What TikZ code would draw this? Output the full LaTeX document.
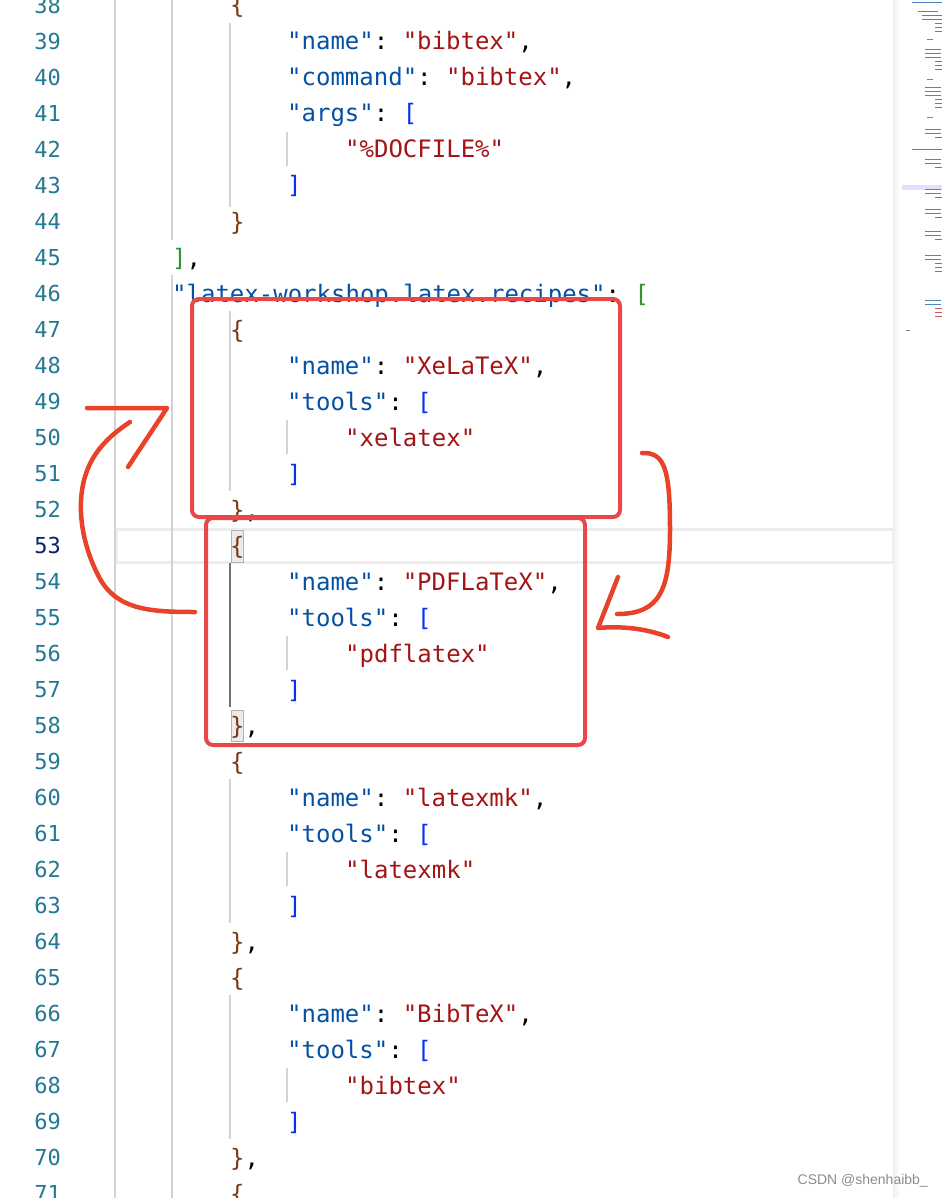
\documentclass[tikz,border=0pt]{standalone}
\usepackage{fontspec}
\setmonofont{DejaVu Sans Mono}
\setsansfont{Liberation Sans}
\definecolor{kcol}{HTML}{0451A5}
\definecolor{scol}{HTML}{A31515}
\definecolor{bcol}{HTML}{7B3814}
\definecolor{qcol}{HTML}{0431FA}
\definecolor{gcol}{HTML}{319331}
\definecolor{ncol}{HTML}{237893}
\definecolor{nact}{HTML}{0B216F}
\definecolor{guide}{HTML}{D3D3D3}
\definecolor{boxred}{HTML}{E84848}
\definecolor{arrred}{HTML}{E8432A}
\newcommand{\ck}[1]{\textcolor{kcol}{#1}}
\newcommand{\cs}[1]{\textcolor{scol}{#1}}
\newcommand{\cb}[1]{\textcolor{bcol}{#1}}
\newcommand{\cq}[1]{\textcolor{qcol}{#1}}
\newcommand{\cg}[1]{\textcolor{gcol}{#1}}
\begin{document}
\begin{tikzpicture}[x=1pt,y=-1pt,
  code/.style={anchor=west,inner sep=0pt,yshift=-3pt,font=\ttfamily\fontsize{24}{24}\selectfont,text height=17pt,text depth=5pt},
  lnum/.style={anchor=east,inner sep=0pt,yshift=-3pt,font=\ttfamily\fontsize{22}{22}\selectfont,text=ncol,text height=16pt,text depth=5pt},
  gline/.style={guide,line width=1.2pt},
  redbox/.style={draw=boxred,line width=4pt,rounded corners=7pt},
  redarr/.style={draw=arrred,line width=4.5pt,line cap=round,line join=round}]
\useasboundingbox (0,0) rectangle (942,1198);
\fill[white] (0,0) rectangle (942,1198);
% current line highlight
\draw[draw=black!7,line width=3pt] (116,529) rectangle (893,562);
% indent guides
\draw[gline] (115,0) -- (115,1198);
\draw[gline] (172,0) -- (172,240);
\draw[gline] (172,275) -- (172,1198);
\foreach \a/\b in {23/207,311/491,779/923,995/1139}{\draw[gline] (230,\a) -- (230,\b);}
\draw[black!55,line width=1.2pt] (230,563) -- (230,707);
\foreach \c in {149,437,653,869,1085}{\draw[gline] (287,\c-17) -- (287,\c+17);}
% bracket match boxes
\draw[black!30,fill=black!8,line width=0.8pt] (231,530) rectangle (243,562);
\draw[black!30,fill=black!8,line width=0.8pt] (231,710) rectangle (243,741);
% line numbers
\foreach \n in {38,...,71}{
  \pgfmathtruncatemacro{\yy}{41+(\n-39)*36}
  \ifnum\n=53
    \node[lnum,text=nact] (ln\n) at (61,\yy) {\n};
  \else
    \node[lnum] (ln\n) at (61,\yy) {\n};
  \fi
}
% code lines
\node[code] (c38) at (230,5) {\cb{\{}};
\node[code] (c39) at (287,41) {\ck{"name"}: \cs{"bibtex"},};
\node[code] (c40) at (287,77) {\ck{"command"}: \cs{"bibtex"},};
\node[code] (c41) at (287,113) {\ck{"args"}: \cq{[}};
\node[code] (c42) at (345,149) {\cs{"\%DOCFILE\%"}};
\node[code] (c43) at (287,185) {\cq{]}};
\node[code] (c44) at (230,221) {\cb{\}}};
\node[code] (c45) at (172,257) {\cg{]},};
\node[code] (c46) at (172,293) {\ck{"latex-workshop.latex.recipes"}: \cg{[}};
\node[code] (c47) at (230,329) {\cb{\{}};
\node[code] (c48) at (287,365) {\ck{"name"}: \cs{"XeLaTeX"},};
\node[code] (c49) at (287,401) {\ck{"tools"}: \cq{[}};
\node[code] (c50) at (345,437) {\cs{"xelatex"}};
\node[code] (c51) at (287,473) {\cq{]}};
\node[code] (c52) at (230,509) {\cb{\}},};
\node[code] (c53) at (230,545) {\cb{\{}};
\node[code] (c54) at (287,581) {\ck{"name"}: \cs{"PDFLaTeX"},};
\node[code] (c55) at (287,617) {\ck{"tools"}: \cq{[}};
\node[code] (c56) at (345,653) {\cs{"pdflatex"}};
\node[code] (c57) at (287,689) {\cq{]}};
\node[code] (c58) at (230,725) {\cb{\}},};
\node[code] (c59) at (230,761) {\cb{\{}};
\node[code] (c60) at (287,797) {\ck{"name"}: \cs{"latexmk"},};
\node[code] (c61) at (287,833) {\ck{"tools"}: \cq{[}};
\node[code] (c62) at (345,869) {\cs{"latexmk"}};
\node[code] (c63) at (287,905) {\cq{]}};
\node[code] (c64) at (230,941) {\cb{\}},};
\node[code] (c65) at (230,977) {\cb{\{}};
\node[code] (c66) at (287,1013) {\ck{"name"}: \cs{"BibTeX"},};
\node[code] (c67) at (287,1049) {\ck{"tools"}: \cq{[}};
\node[code] (c68) at (345,1085) {\cs{"bibtex"}};
\node[code] (c69) at (287,1121) {\cq{]}};
\node[code] (c70) at (230,1157) {\cb{\}},};
\node[code] (c71) at (230,1193) {\cb{\{}};
% minimap
\fill[left color=black!6,right color=white] (893,0) rectangle (900,1198);
\fill[blue!12] (902,185) rectangle (942,190);
\foreach \y/\x/\w/\c in {3/912/30/kcol,12/918/20/kcol,16/922/20/kcol,20/922/20/kcol,24/935/7/scol,28/935/7/scol,32/935/7/scol,40/927/6/bcol,
  50/925/16/kcol,54/925/16/kcol,58/925/16/kcol,62/935/7/scol,66/935/7/scol,70/935/7/scol,80/927/6/bcol,
  88/925/16/kcol,92/925/16/kcol,96/925/16/kcol,100/935/7/scol,104/935/7/scol,108/935/7/scol,118/927/6/bcol,
  130/925/16/kcol,134/925/16/kcol,138/935/7/scol,150/912/30/kcol,160/925/16/kcol,164/925/16/kcol,168/935/7/scol,
  190/925/16/kcol,194/925/16/kcol,198/935/7/scol,210/925/16/kcol,214/925/16/kcol,218/935/7/scol,
  232/925/16/kcol,236/925/16/kcol,240/935/7/scol,255/925/16/kcol,259/925/16/kcol,263/935/7/scol,267/935/7/scol,271/935/7/scol,
  300/925/16/kcol,304/925/16/kcol,308/935/7/scol,312/935/7/scol,316/935/7/scol,330/906/4/bcol}
  {\draw[\c!70,line width=1pt] (\x,\y) -- (\x+\w,\y);}
% watermark
\node[anchor=east,inner sep=0pt,font=\sffamily\fontsize{14}{14}\selectfont,text=black!45] (wm) at (928,1181) {CSDN @shenhaibb\_};
% red boxes
\draw[redbox] (192,299) rectangle (620,517);
\draw[redbox] (206,518) rectangle (585,745);
% left arrow
\coordinate (la0) at (195,612);
\draw[redarr] (la0) .. controls (150,612) and (115,610) .. (98,575)
  .. controls (80,540) and (72,490) .. (95,455) .. controls (105,440) and (118,430) .. (130,422);
\draw[redarr] (87,408) -- (167,408) -- (128,467);
% right arrow
\draw[redarr] (642,453) .. controls (665,452) and (670,470) .. (670,530)
  .. controls (670,590) and (660,614) .. (617,614);
\draw[redarr] (618,577) -- (598,628) .. controls (620,626) and (645,628) .. (668,637);
\end{tikzpicture}
\end{document}
